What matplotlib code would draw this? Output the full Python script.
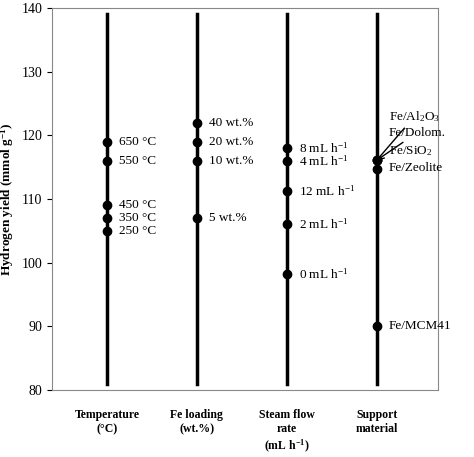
import matplotlib
matplotlib.use("Agg")
import matplotlib.pyplot as plt

plt.rcParams['font.family'] = ['Liberation Serif', 'DejaVu Serif']
plt.rcParams['mathtext.fontset'] = 'custom'
plt.rcParams['mathtext.rm'] = 'Liberation Serif'
plt.rcParams['mathtext.bf'] = 'Liberation Serif:bold'
plt.rcParams['mathtext.default'] = 'regular'

categories = ["Temperature\n(°C)", "Fe loading\n(wt.%)", "Steam flow\nrate\n(mL h$^{-1}$)", "Support\nmaterial"]
temp_vals = [119, 116, 109, 107, 105]
temp_labels = ["650 °C", "550 °C", "450 °C", "350 °C", "250 °C"]
fe_vals = [122, 119, 116, 107]
fe_labels = ["40 wt.%", "20 wt.%", "10 wt.%", "5 wt.%"]
steam_vals = [118, 116, 111.2, 106, 98.2]
steam_labels = ["8 mL h$^{-1}$", "4 mL h$^{-1}$", "12 mL h$^{-1}$", "2 mL h$^{-1}$", "0 mL h$^{-1}$"]
support_vals = [116.1, 116.1, 116.1, 114.7, 90]
support_labels = ["Fe/Al$_2$O$_3$", "Fe/Dolom.", "Fe/SiO$_2$", "Fe/Zeolite", "Fe/MCM41"]

fig = plt.figure(figsize=(4.74, 4.57), dpi=100)
ax = fig.add_axes([52/474, 1-390/457, 386/474, 382/457])
ax.set_xlim(0.39, 4.68)
ax.set_ylim(80, 140)

for i in range(4):
    ax.plot([i+1, i+1], [81, 139], color='black', lw=2.5)

def put(x, vals, labels):
    ax.plot([x]*len(vals), vals, 'o', color='black', ms=6)
    for v, l in zip(vals, labels):
        ax.text(x + 0.13, v, l, va='center', ha='left', fontsize=9.5)

put(1, temp_vals, temp_labels)
put(2, fe_vals, fe_labels)
put(3, steam_vals, steam_labels)
ax.plot([4]*len(support_vals), support_vals, 'o', color='black', ms=6)
lab_y = [122.9, 120.4, 117.6]
for v, l, ly in zip(support_vals[:3], support_labels[:3], lab_y):
    ax.annotate(l, xy=(4, v), xytext=(4.13, ly), va='center', ha='left', fontsize=9.5,
                arrowprops=dict(arrowstyle='-', color='black', lw=1, shrinkA=1, shrinkB=2))
ax.text(4.13, 114.9, support_labels[3], va='center', ha='left', fontsize=9.5)
ax.text(4.13, 90, support_labels[4], va='center', ha='left', fontsize=9.5)

ax.set_xticks([1, 2, 3, 4])
ax.set_xticklabels(categories, fontsize=8.5, fontweight='bold', va='top')
ax.tick_params(axis='x', length=0, pad=14)
ax.set_yticks(range(80, 141, 10))
ax.tick_params(axis='y', labelsize=10)
ax.set_ylabel(r"Hydrogen yield (mmol g$^{\mathbf{-1}}$)", fontsize=9.5, fontweight='bold', labelpad=4)
for s in ax.spines.values():
    s.set_color('#888888')
fig.savefig("out.png", dpi=100)
